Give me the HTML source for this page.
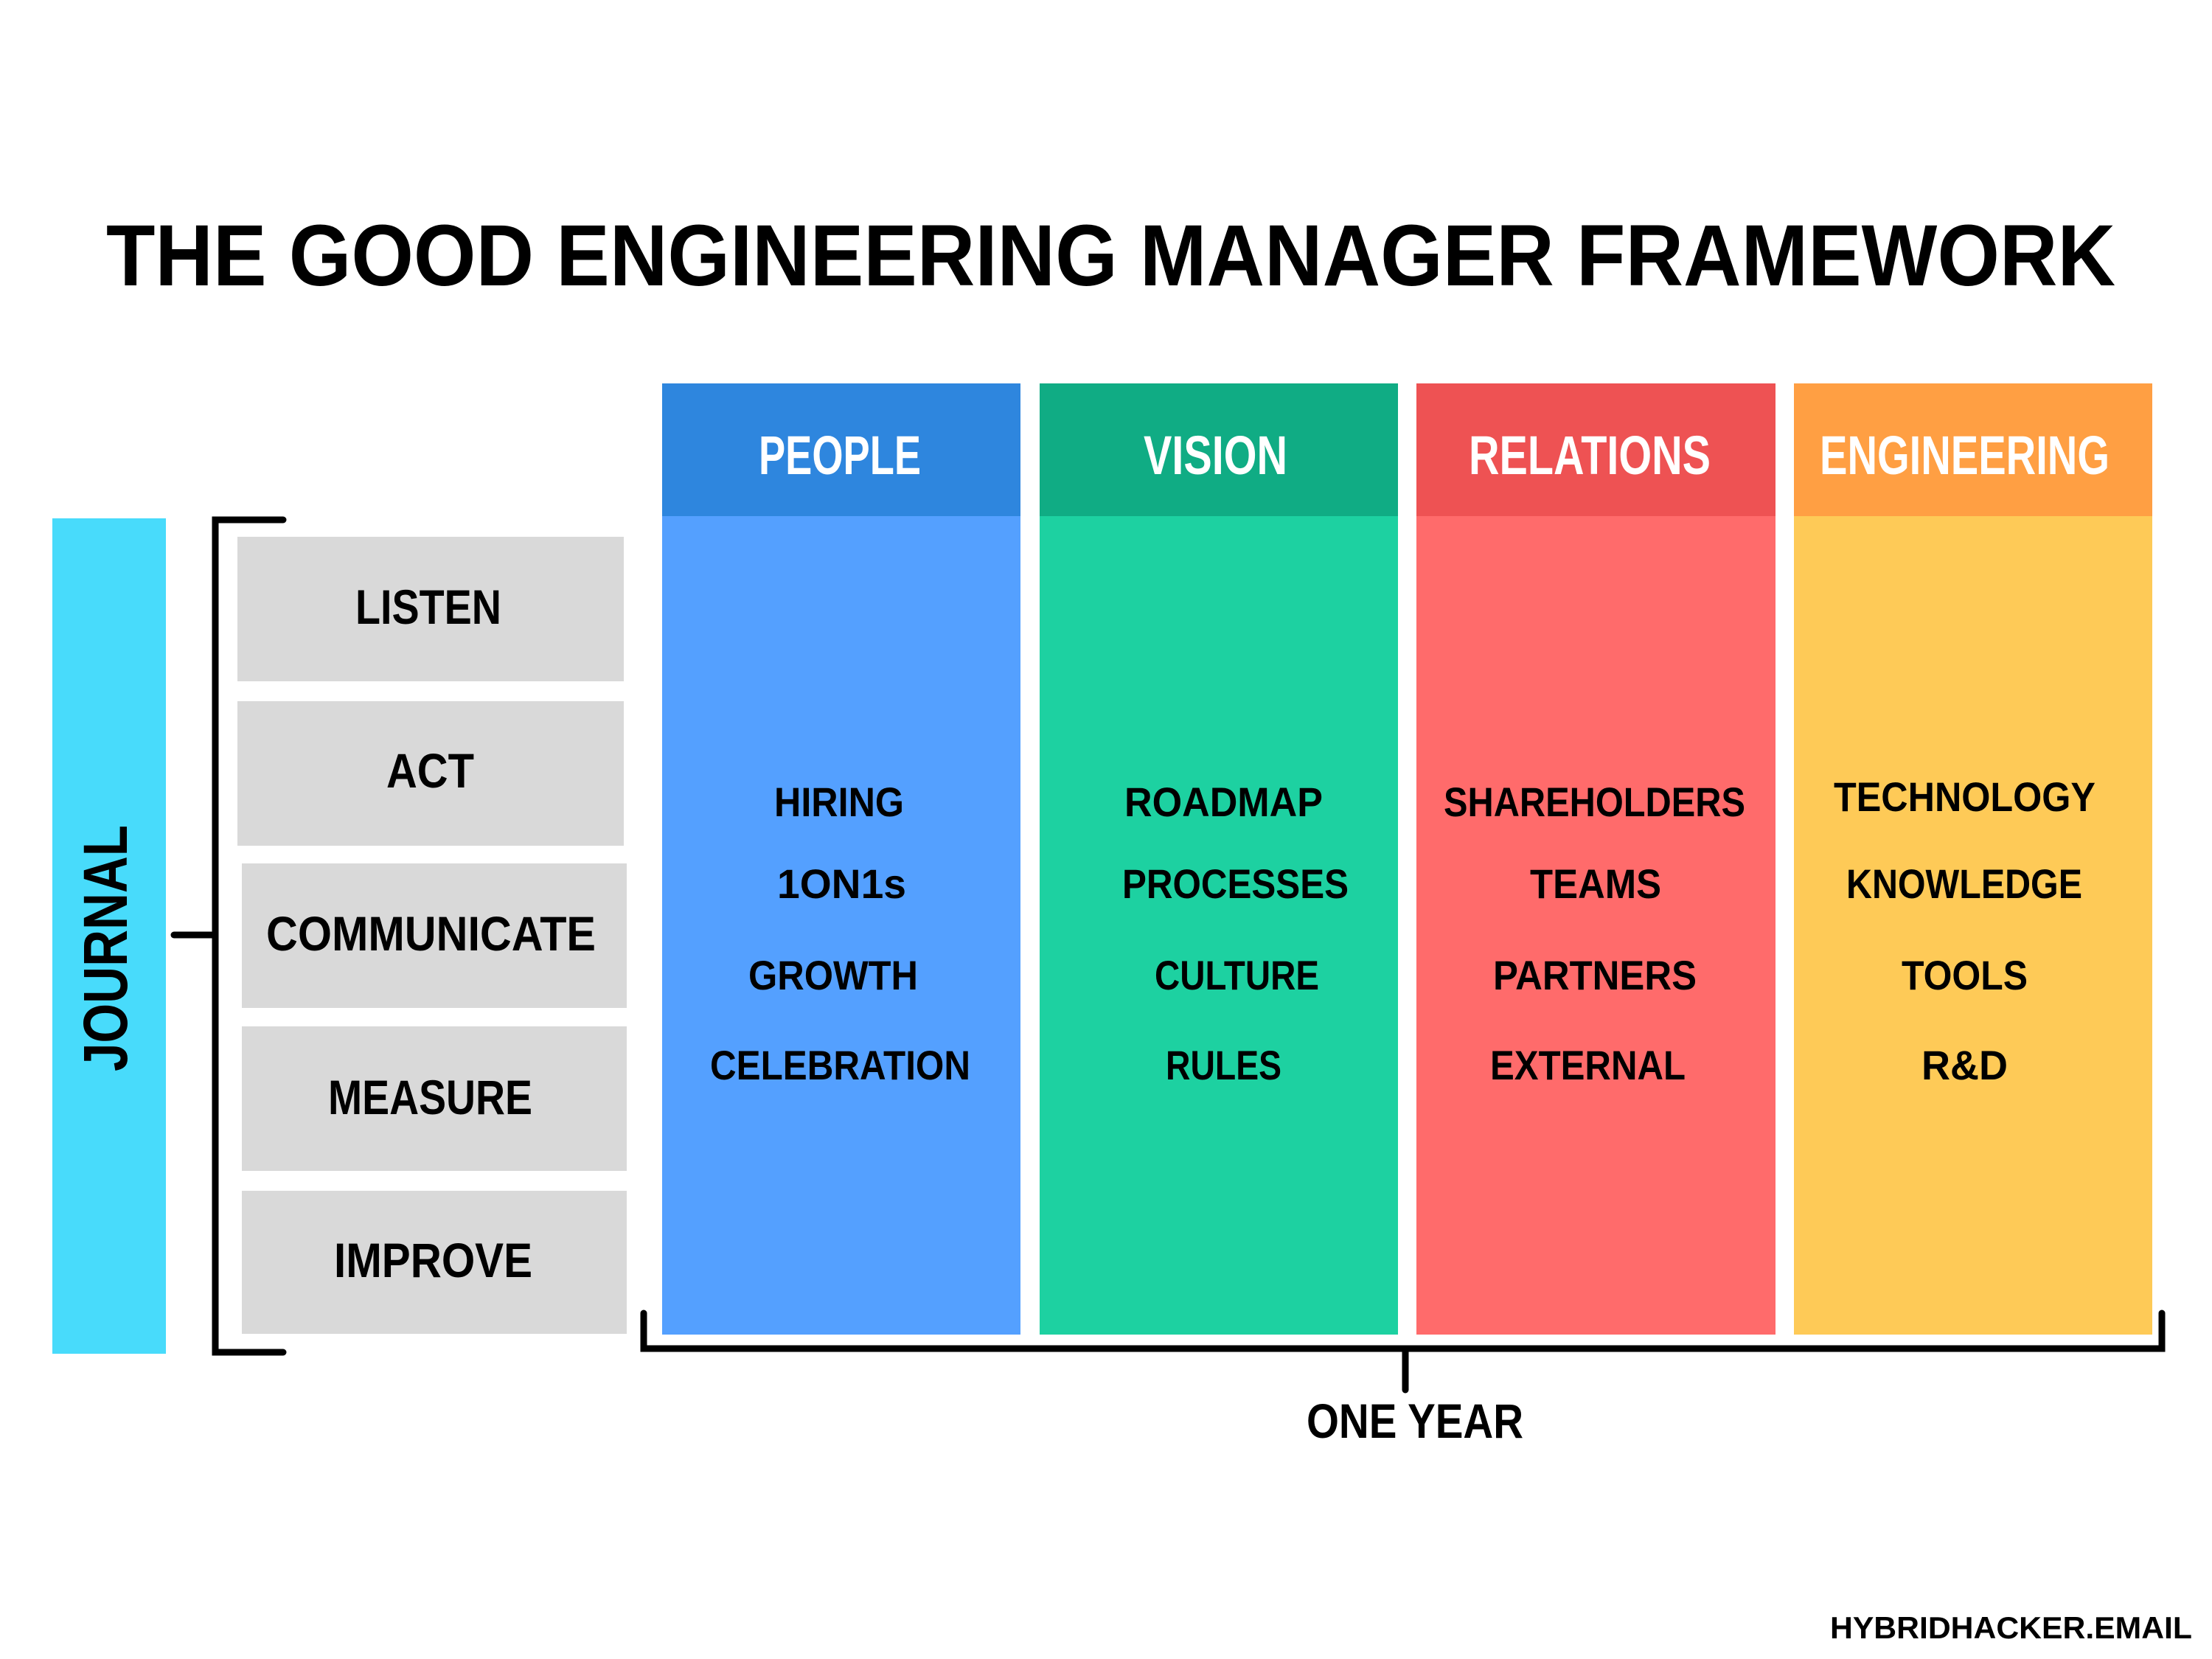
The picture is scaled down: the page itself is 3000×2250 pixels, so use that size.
<!DOCTYPE html>
<html><head><meta charset="utf-8"><style>html,body{margin:0;padding:0;background:#fff}svg{display:block}text{font-family:"Liberation Sans",sans-serif;font-weight:bold}</style></head>
<body>
<svg width="3000" height="2250" viewBox="0 0 3000 2250" xmlns="http://www.w3.org/2000/svg">
<rect width="3000" height="2250" fill="#fff"/>
<text x="144" y="387" font-size="118" textLength="2725" lengthAdjust="spacingAndGlyphs" fill="#000">THE GOOD ENGINEERING MANAGER FRAMEWORK</text>

<rect x="71" y="703" width="154" height="1133" fill="#48dbfb"/>
<text transform="translate(172,1286) rotate(-90)" text-anchor="middle" font-size="84" textLength="334" lengthAdjust="spacingAndGlyphs" fill="#000">JOURNAL</text>

<g stroke="#000" stroke-width="9" fill="none" stroke-linecap="round">
<path d="M384 705 H292 V1834 H384"/>
<path d="M236 1268 H292"/>
</g>

<g>
<rect x="322" y="728" width="524" height="196" fill="#d9d9d9"/>
<rect x="322" y="951" width="524" height="196" fill="#d9d9d9"/>
<rect x="328" y="1171" width="522" height="196" fill="#d9d9d9"/>
<rect x="328" y="1392" width="522" height="196" fill="#d9d9d9"/>
<rect x="328" y="1615" width="522" height="194" fill="#d9d9d9"/>
<text x="482" y="846" font-size="66" textLength="198" lengthAdjust="spacingAndGlyphs">LISTEN</text>
<text x="524" y="1068" font-size="66" textLength="119" lengthAdjust="spacingAndGlyphs">ACT</text>
<text x="361" y="1289" font-size="66" textLength="447" lengthAdjust="spacingAndGlyphs">COMMUNICATE</text>
<text x="445" y="1511" font-size="66" textLength="277" lengthAdjust="spacingAndGlyphs">MEASURE</text>
<text x="453" y="1732" font-size="66" textLength="269" lengthAdjust="spacingAndGlyphs">IMPROVE</text>
</g>

<g>
<rect x="898" y="520" width="486" height="1290" fill="#54a0ff"/>
<rect x="898" y="520" width="486" height="180" fill="#2e86de"/>
<text x="1029" y="643" font-size="74" textLength="220" lengthAdjust="spacingAndGlyphs" fill="#fff">PEOPLE</text>
<text x="1050" y="1107" font-size="56" textLength="176" lengthAdjust="spacingAndGlyphs">HIRING</text>
<text x="1054" y="1218" font-size="56" textLength="175" lengthAdjust="spacingAndGlyphs">1ON1s</text>
<text x="1015" y="1342" font-size="56" textLength="230" lengthAdjust="spacingAndGlyphs">GROWTH</text>
<text x="963" y="1464" font-size="56" textLength="353" lengthAdjust="spacingAndGlyphs">CELEBRATION</text>
</g>

<g>
<rect x="1410" y="520" width="486" height="1290" fill="#1dd1a1"/>
<rect x="1410" y="520" width="486" height="180" fill="#10ac84"/>
<text x="1551" y="643" font-size="74" textLength="195" lengthAdjust="spacingAndGlyphs" fill="#fff">VISION</text>
<text x="1525" y="1107" font-size="56" textLength="269" lengthAdjust="spacingAndGlyphs">ROADMAP</text>
<text x="1522" y="1218" font-size="56" textLength="307" lengthAdjust="spacingAndGlyphs">PROCESSES</text>
<text x="1566" y="1342" font-size="56" textLength="223" lengthAdjust="spacingAndGlyphs">CULTURE</text>
<text x="1581" y="1464" font-size="56" textLength="157" lengthAdjust="spacingAndGlyphs">RULES</text>
</g>

<g>
<rect x="1921" y="520" width="487" height="1290" fill="#ff6b6b"/>
<rect x="1921" y="520" width="487" height="180" fill="#ee5253"/>
<text x="1992" y="643" font-size="74" textLength="328" lengthAdjust="spacingAndGlyphs" fill="#fff">RELATIONS</text>
<text x="1958" y="1107" font-size="56" textLength="409" lengthAdjust="spacingAndGlyphs">SHAREHOLDERS</text>
<text x="2075" y="1218" font-size="56" textLength="178" lengthAdjust="spacingAndGlyphs">TEAMS</text>
<text x="2025" y="1342" font-size="56" textLength="276" lengthAdjust="spacingAndGlyphs">PARTNERS</text>
<text x="2021" y="1464" font-size="56" textLength="265" lengthAdjust="spacingAndGlyphs">EXTERNAL</text>
</g>

<g>
<rect x="2433" y="520" width="486" height="1290" fill="#feca57"/>
<rect x="2433" y="520" width="486" height="180" fill="#ff9f43"/>
<text x="2468" y="643" font-size="74" textLength="393" lengthAdjust="spacingAndGlyphs" fill="#fff">ENGINEERING</text>
<text x="2487" y="1100" font-size="56" textLength="355" lengthAdjust="spacingAndGlyphs">TECHNOLOGY</text>
<text x="2504" y="1218" font-size="56" textLength="320" lengthAdjust="spacingAndGlyphs">KNOWLEDGE</text>
<text x="2579" y="1342" font-size="56" textLength="171" lengthAdjust="spacingAndGlyphs">TOOLS</text>
<text x="2606" y="1464" font-size="56" textLength="117" lengthAdjust="spacingAndGlyphs">R&amp;D</text>
</g>

<g stroke="#000" stroke-width="9" fill="none" stroke-linecap="round">
<path d="M873 1781 V1829 H2932 V1781"/>
<path d="M1906 1829 V1885"/>
</g>
<text x="1772" y="1950" font-size="66" textLength="294" lengthAdjust="spacingAndGlyphs">ONE YEAR</text>
<text x="2482" y="2222" font-size="42" textLength="491" lengthAdjust="spacingAndGlyphs">HYBRIDHACKER.EMAIL</text>
</svg>
</body></html>
